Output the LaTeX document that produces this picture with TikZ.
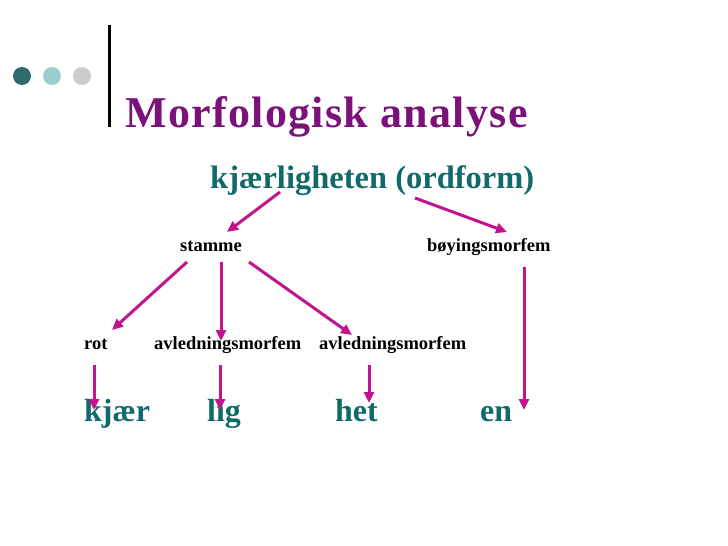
\documentclass[tikz,border=0pt]{standalone}
\usepackage{fontspec}
\setmainfont{Liberation Serif}
\usetikzlibrary{calc,arrows.meta}
\definecolor{tittel}{HTML}{7B1279}
\definecolor{petrol}{HTML}{106A6A}
\definecolor{pil}{HTML}{C0158F}
\definecolor{prikk1}{HTML}{2E6B6B}
\definecolor{prikk2}{HTML}{99CDD0}
\definecolor{prikk3}{HTML}{CCCCCC}
\tikzset{
  ord/.style={anchor=base west, inner sep=0pt, font=\bfseries\fontsize{18.5}{20}\selectfont},
  form/.style={anchor=base west, inner sep=0pt, text=petrol, font=\bfseries\fontsize{32}{36}\selectfont},
  pil/.style={->, >={Triangle[length=11pt,width=10pt]}, draw=pil, fill=pil, line width=3pt}
}
\begin{document}
\begin{tikzpicture}[x=1pt, y=-1pt]
    \useasboundingbox (0,0) rectangle (728,546);
    % prikker og strek
    \fill[prikk1] (22,76) circle (9);
    \fill[prikk2] (52,76) circle (9);
    \fill[prikk3] (82,76) circle (9);
    \draw[line width=3pt] (109,25) -- (109,127);
    % overskrift
    \node[anchor=base west, inner sep=0pt, text=tittel, font=\bfseries\fontsize{44}{48}\selectfont\addfontfeature{LetterSpace=3}] (tittel) at (125,127) {Morfologisk analyse};
    % ordformen
    \node[form, font=\bfseries\fontsize{32.5}{36}\selectfont] (ordform) at (210,188) {kjærligheten (ordform)};
    \node[ord] (stamme) at (180,251) {stamme};
    \node[ord] (boy) at (427,251) {bøyingsmorfem};
    \node[ord] (rot) at (84,349) {rot};
    \node[ord] (avl1) at (154,349) {avledningsmorfem};
    \node[ord] (avl2) at (319,349) {avledningsmorfem};
    % morfene
    \node[form] (kjaer) at (84,421) {kjær};
    \node[form] (lig) at (207,421) {lig};
    \node[form] (het) at (335,421) {het};
    \node[form] (en) at (480,421) {en};
    % piler
    \draw[pil] ($(ordform.base west)+(70,4)$) -- ($(stamme.base west)+(47,-19)$);
    \draw[pil] ($(ordform.base west)+(205,10)$) -- ($(boy.base west)+(80,-19)$);
    \draw[pil] ($(stamme.base west)+(7,11)$) -- ($(rot.base west)+(28,-19)$);
    \draw[pil] ($(stamme.base west)+(41,11)$) -- ($(avl1.base west)+(67,-8)$);
    \draw[pil] ($(stamme.base west)+(69,11)$) -- ($(avl2.base west)+(33,-14)$);
    \draw[pil] ($(boy.base west)+(97,16)$) -- ($(en.base west)+(44,-11)$);
    \draw[pil] ($(rot.base west)+(10,16)$) -- ($(kjaer.base west)+(10,-11)$);
    \draw[pil] ($(avl1.base west)+(66,16)$) -- ($(lig.base west)+(13,-11)$);
    \draw[pil] ($(avl2.base west)+(50,16)$) -- ($(het.base west)+(34,-18)$);
\end{tikzpicture}
\end{document}
